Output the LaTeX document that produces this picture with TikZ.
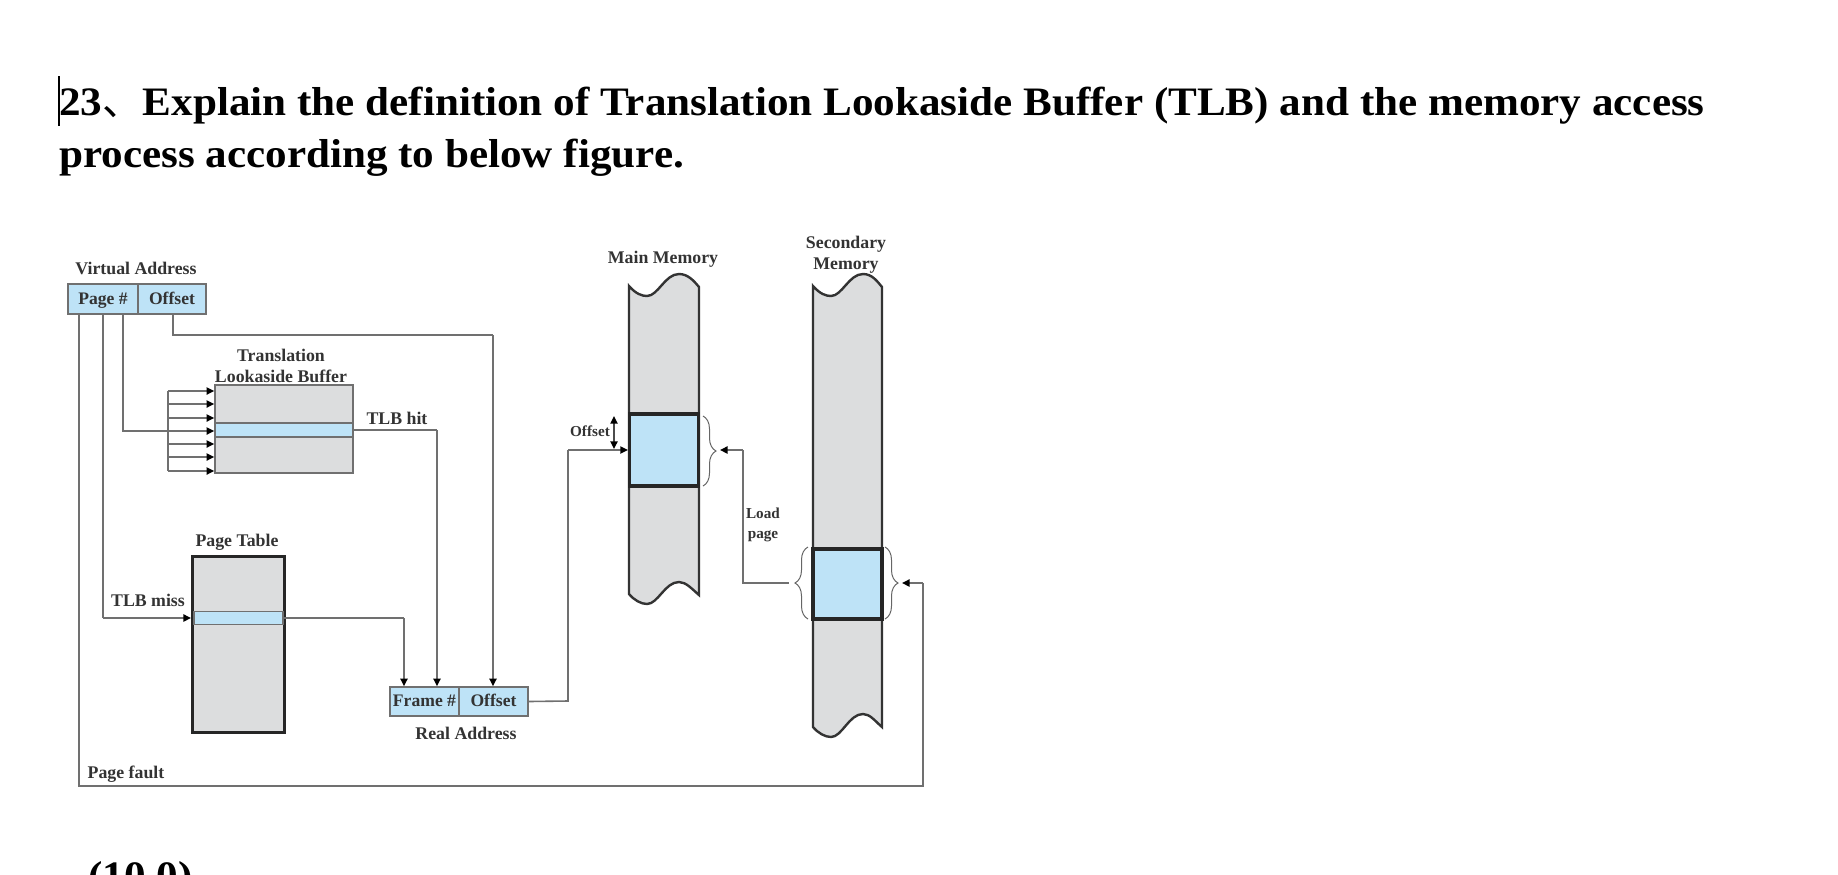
\documentclass[tikz,border=0pt]{standalone}
\usepackage{fontspec}
\setmainfont{Liberation Serif}
\newfontfamily\headfont[BoldFeatures={FakeStretch=1.067}]{Liberation Serif}
\newfontfamily\cjkfont{Noto Sans CJK SC}
\usetikzlibrary{arrows.meta,decorations.pathreplacing}
\definecolor{cellblue}{HTML}{BEE3F7}
\definecolor{cellgray}{HTML}{DCDDDE}
\definecolor{inkgray}{HTML}{333333}
\definecolor{linegray}{HTML}{707070}
\tikzset{
  frame/.style={
    rectangle, draw=linegray, line width=0.8pt, fill=cellblue,
    inner sep=0pt, text=inkgray, text height=6.5pt, text depth=1.3pt,
    font=\fontsize{8.8}{9}\selectfont\bfseries,
  },
  table/.style={
    rectangle, draw=linegray, line width=0.8pt, fill=cellgray, inner sep=0pt,
  },
  tabledark/.style={
    table, draw=black!85, line width=1.5pt,
  },
  stripe/.style={
    rectangle, draw=linegray, line width=0.7pt, fill=cellblue, inner sep=0pt,
  },
  pageframe/.style={
    rectangle, draw=black!85, line width=1.6pt, fill=cellblue, inner sep=0pt,
  },
  column/.style={
    draw=black!80, line width=1.2pt, fill=cellgray,
  },
  tag/.style={
    text=inkgray, align=center, inner sep=0pt,
    font=\fontsize{8.9}{10.5}\selectfont\bfseries,
  },
  smalltag/.style={
    tag, font=\fontsize{7.6}{10}\selectfont\bfseries,
  },
  head/.style={
    anchor=base west, inner sep=0pt, text=black,
    font=\headfont\fontsize{20.2}{20.2}\selectfont\bfseries,
  },
  line/.style={
    draw=linegray, line width=0.8pt,
  },
  arrow/.style={
    line, -{Triangle[length=3.8pt,width=3.6pt,black]},
  },
  twoway/.style={
    draw=black!70, line width=0.7pt,
    {Triangle[length=3.8pt,width=3.6pt,black]}-{Triangle[length=3.8pt,width=3.6pt,black]},
  },
  curly/.style={
    draw=black!60, line width=0.5pt, decorate,
    decoration={brace,amplitude=6.5pt},
  },
}
\begin{document}
\begin{tikzpicture}[x=0.5pt,y=-0.5pt]
\useasboundingbox (0,0) rectangle (1838,874);
\clip (0,0) rectangle (1838,874);
\node [head] (hone) at (59,115.5) {23{\cjkfont\mdseries 、}Explain the definition of Translation Lookaside Buffer (TLB) and the memory access};
\node [head] (htwo) at (59,167.5) {process according to below figure.};
\node [head] (hthree) at (88,889) {(10.0)};
\draw [line width=1pt,black] (59,76) -- (59,126);

\node [frame,minimum width=35pt,minimum height=15pt] (vpage) at (103,299) {Page \#};
\node [frame,minimum width=34pt,minimum height=15pt] (voff) at (172,299) {Offset};
\node [frame,minimum width=34.5pt,minimum height=14.5pt] (rframe) at (424.5,701.5) {Frame \#};
\node [frame,minimum width=34.5pt,minimum height=14.5pt] (roff) at (493.5,701.5) {Offset};

\node [table,minimum width=69pt,minimum height=44pt] (tlb) at (284,429) {};
\node [stripe,minimum width=69pt,minimum height=7pt] (tlbrow) at (284,430) {};
\node [tabledark,minimum width=46pt,minimum height=88pt] (ptab) at (238.5,644) {};
\node [stripe,minimum width=44.5pt,minimum height=6.5pt] (ptrow) at (238.5,618) {};

\path [column] (629,286) .. controls (636,294) and (642,296) .. (647,296)
  .. controls (658,296) and (665,274) .. (679,274) .. controls (688,274) and (694,281) .. (699,287)
  -- (699,595) .. controls (692,589) and (686,582) .. (679,582)
  .. controls (665,582) and (658,604) .. (647,604) .. controls (641,604) and (634,600) .. (629,594) -- cycle;
\path [column] (813,286) .. controls (820,294) and (826,296) .. (831,296)
  .. controls (842,296) and (849,274) .. (863,274) .. controls (872,274) and (877,281) .. (882,287)
  -- (882,727) .. controls (875,721) and (870,714) .. (863,714)
  .. controls (849,714) and (842,737) .. (831,737) .. controls (825,737) and (818,733) .. (813,727) -- cycle;
\node [pageframe,minimum width=34.5pt,minimum height=36pt] (mpage) at (664,450) {};
\node [pageframe,minimum width=34.5pt,minimum height=35pt] (spage) at (847.5,584) {};

\node [tag] (vlab) at (136,268) {Virtual Address};
\node [tag] (tlab) at (281,366) {Translation\\Lookaside Buffer};
\node [tag] (hit) at (397,418) {TLB hit};
\node [tag] (ptlab) at (237,542) {Page Table};
\node [tag] (miss) at (148,600) {TLB miss};
\node [tag] (rlab) at (466,733) {Real Address};
\node [tag] (flt) at (126,774) {Page fault};
\node [tag] (mlab) at (663,259) {Main Memory};
\node [tag] (slab) at (846,255) {Secondary\\Memory};
\node [smalltag] (olab) at (590,431) {Offset};
\node [smalltag] (load) at (763,525) {Load\\page};

\coordinate (fa) at (79,314);
\coordinate (fb) at (79,786);
\coordinate (fc) at (923,786);
\coordinate (fd) at (923,583);
\coordinate (fe) at (902,583);
\coordinate (ma) at (103,314);
\coordinate (mb) at (103,618);
\coordinate (ha) at (123,314);
\coordinate (hb) at (123,431);
\coordinate (oa) at (173,314);
\coordinate (ob) at (173,335);
\coordinate (oc) at (493,335);
\coordinate (ta) at (437,430);
\coordinate (pa) at (404,618);
\coordinate (ra) at (568,701);
\coordinate (rb) at (568,450);
\coordinate (la) at (720,450);
\coordinate (lb) at (743,450);
\coordinate (lc) at (743,583);
\coordinate (ld) at (789,583);
\coordinate (da) at (614,416);
\coordinate (db) at (614,449);

\foreach \i/\y in {1/391,2/404,3/418,4/431,5/444,6/457,7/471} {
  \coordinate (in\i) at (168,\y);
  \path [arrow] (in\i) -- (in\i -| tlb.west);
}
\path [line] (in1) -- (in7);
\path [line] (fa) -- (fb) -- (fc) -- (fd);
\path [arrow] (fd) -- (fe);
\path [line] (ma) -- (mb);
\path [arrow] (mb) -- (mb -| ptab.west);
\path [line] (ha) -- (hb) -- (in4);
\path [line] (oa) -- (ob) -- (oc);
\path [arrow] (oc) -- (oc |- roff.north);
\path [line] (tlbrow.east) -- (ta);
\path [arrow] (ta) -- (ta |- rframe.north);
\path [line] (ptrow.east) -- (pa);
\path [arrow] (pa) -- (pa |- rframe.north);
\path [line] (roff.east) -- (ra) -- (rb);
\path [arrow] (rb) -- (mpage.west);
\path [arrow] (lb) -- (la);
\path [line] (lb) -- (lc) -- (ld);
\path [twoway] (da) -- (db);

\path [curly] (703,416) -- (703,486);
\path [curly] (808,619) -- (808,547);
\path [curly] (885,547) -- (885,619);
\end{tikzpicture}
\end{document}
